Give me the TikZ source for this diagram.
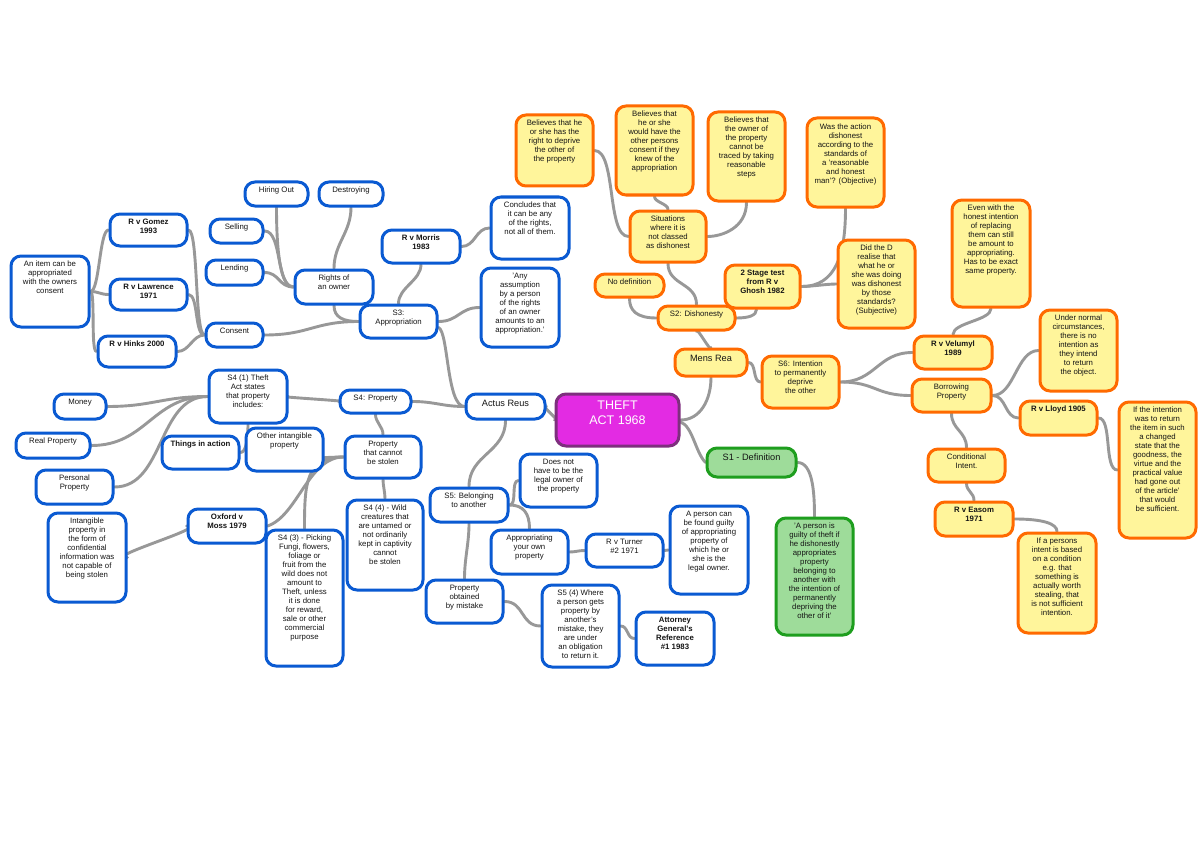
\documentclass[tikz,border=0pt]{standalone}
\usepackage{fontspec}
\setmainfont{Liberation Sans}
\usetikzlibrary{backgrounds}
\definecolor{bl}{HTML}{0A5AD2}
\definecolor{orb}{HTML}{FF6A00}
\definecolor{yel}{HTML}{FFF59B}
\definecolor{grb}{HTML}{1E9E1E}
\definecolor{grf}{HTML}{9EDC9A}
\definecolor{mag}{HTML}{E32BE3}
\definecolor{pur}{HTML}{7E2F7E}
\definecolor{lnk}{RGB}{152,152,152}
\definecolor{txc}{HTML}{151515}
\newcommand\bx[9][6]{%
  \node[#2, anchor=north west, minimum width=#7pt-#5pt-3pt, minimum height=#8pt-#6pt-3pt] (#4) at (#5+1.5,-#6-1.5) {};
  \node[#3, anchor=north] (#4t) at ([yshift=-#1pt]#4.north) {#9};}
\newcommand\ehc[3]{\draw[ed] (#1) .. controls +(#3,0) and +(-#3,0) .. (#2);}
\newcommand\evc[3]{\draw[ed] (#1) .. controls +(0,-#3) and +(0,#3) .. (#2);}
\begin{document}
\begin{tikzpicture}[x=1pt,y=1pt,
  base/.style={line width=3pt, rounded corners=10pt, inner sep=0pt},
  bb/.style={base, draw=bl, fill=white},
  ob/.style={base, draw=orb, fill=yel},
  gb/.style={base, draw=grb, fill=grf},
  tb/.style={base, draw=pur, fill=mag},
  tx/.style={inner sep=0pt, align=center, text=txc, font=\fontsize{7.8}{9}\selectfont},
  txb/.style={tx, font=\fontsize{7.8}{9}\selectfont\bfseries},
  txl/.style={tx, font=\fontsize{9.2}{11}\selectfont},
  txw/.style={inner sep=0pt, align=center, text=white, font=\fontsize{12.5}{15.5}\selectfont},
  ed/.style={draw=lnk, line width=2.9pt, line cap=round}]
\useasboundingbox (0,0) rectangle (1200,-848);

% ---------- centre ----------
\bx[8]{tb}{txw}{theft}{553}{391}{679}{446}{THEFT\\ACT 1968}
\bx[7]{bb}{txl}{actus}{463}{391}{545}{419}{Actus Reus}
\bx[7]{ob}{txl}{mens}{672}{346}{747}{376}{Mens Rea}
\bx[7]{gb}{txl}{s1}{704}{445}{796}{477}{S1 - Definition}
\bx{gb}{tx}{apg}{773}{515}{853}{635}{'A person is\\guilty of theft if\\he dishonestly\\appropriates\\property\\belonging to\\another with\\the intention of\\permanently\\depriving the\\other of it'}

% ---------- S3 appropriation branch ----------
\bx{bb}{tx}{item}{8}{253}{89}{327}{An item can be\\appropriated\\with the owners\\consent}
\bx{bb}{txb}{gomez}{107}{211}{187}{246}{R v Gomez\\1993}
\bx{bb}{txb}{lawr}{107}{276}{187}{310}{R v Lawrence\\1971}
\bx{bb}{txb}{hinks}{95}{333}{176}{367}{R v Hinks 2000}
\bx{bb}{tx}{cons}{203}{320}{263}{347}{Consent}
\bx{bb}{tx}{sell}{207}{216}{263}{243}{Selling}
\bx{bb}{tx}{lend}{203}{257}{263}{285}{Lending}
\bx{bb}{tx}{hire}{242}{179}{308}{206}{Hiring Out}
\bx{bb}{tx}{destr}{316}{179}{383}{206}{Destroying}
\bx{bb}{tx}{rights}{292}{267}{373}{304}{Rights of\\an owner}
\bx{bb}{tx}{s3}{357}{302}{437}{338}{S3:\\Appropriation}
\bx{bb}{txb}{morris}{379}{227}{460}{263}{R v Morris\\1983}
\bx{bb}{tx}{concl}{488}{194}{569}{259}{Concludes that\\it can be any\\of the rights,\\not all of them.}
\bx{bb}{tx}{any}{478}{265}{559}{347}{'Any\\assumption\\by a person\\of the rights\\of an owner\\amounts to an\\appropriation.'}

% ---------- S4 property branch ----------
\bx{bb}{tx}{s4p}{337}{387}{411}{413}{S4: Property}
\bx{bb}{tx}{s41}{206}{367}{287}{423}{S4 (1) Theft\\Act states\\that property\\includes:}
\bx{bb}{tx}{money}{51}{391}{106}{419}{Money}
\bx{bb}{tx}{real}{13}{430}{90}{458}{Real Property}
\bx{bb}{tx}{pers}{33}{467}{113}{504}{Personal\\Property}
\bx{bb}{txb}{things}{159}{433}{239}{469}{Things in action}
\bx{bb}{tx}{other}{243}{425}{323}{471}{Other intangible\\property}
\bx{bb}{txb}{oxford}{185}{506}{266}{543}{Oxford v\\Moss 1979}
\bx{bb}{tx}{intang}{45}{510}{126}{602}{Intangible\\property in\\the form of\\confidential\\information was\\not capable of\\being stolen}
\bx{bb}{tx}{ptc}{342}{433}{421}{478}{Property\\that cannot\\be stolen}
\bx{bb}{tx}{s44}{344}{497}{423}{590}{S4 (4) - Wild\\creatures that\\are untamed or\\not ordinarily\\kept in captivity\\cannot\\be stolen}
\bx{bb}{tx}{s43}{263}{527}{343}{666}{S4 (3) - Picking\\Fungi, flowers,\\foliage or\\fruit from the\\wild does not\\amount to\\Theft, unless\\it is done\\for reward,\\sale or other\\commercial\\purpose}

% ---------- S5 belonging branch ----------
\bx{bb}{tx}{s5}{427}{485}{508}{522}{S5: Belonging\\to another}
\bx{bb}{tx}{dn}{517}{451}{597}{507}{Does not\\have to be the\\legal owner of\\the property}
\bx{bb}{tx}{app}{488}{527}{568}{574}{Appropriating\\your own\\property}
\bx{bb}{tx}{turner}{583}{531}{663}{567}{R v Turner\\\#2 1971}
\bx{bb}{tx}{aper}{667}{503}{748}{594}{A person can\\be found guilty\\of appropriating\\property of\\which he or\\she is the\\legal owner.}
\bx{bb}{tx}{pob}{423}{577}{503}{623}{Property\\obtained\\by mistake}
\bx{bb}{tx}{s54}{539}{582}{619}{667}{S5 (4) Where\\a person gets\\property by\\another's\\mistake, they\\are under\\an obligation\\to return it.}
\bx{bb}{txb}{ag}{633}{609}{714}{665}{Attorney\\General's\\Reference\\\#1 1983}

% ---------- S2 dishonesty branch ----------
\bx{ob}{tx}{bel1}{513}{112}{593}{186}{Believes that he\\or she has the\\right to deprive\\the other of\\the property}
\bx{ob}{tx}{bel2}{613}{103}{693}{195}{Believes that\\he or she\\would have the\\other persons\\consent if they\\knew of the\\appropriation}
\bx{ob}{tx}{bel3}{705}{109}{785}{201}{Believes that\\the owner of\\the property\\cannot be\\traced by taking\\reasonable\\steps}
\bx{ob}{tx}{sit}{627}{208}{706}{262}{Situations\\where it is\\not classed\\as dishonest}
\bx{ob}{tx}{nodef}{592}{271}{664}{297}{No definition}
\bx{ob}{tx}{s2}{655}{303}{735}{330}{S2: Dishonesty}
\bx{ob}{txb}{ghosh}{722}{262}{800}{308}{2 Stage test\\from R v\\Ghosh 1982}
\bx[7]{ob}{tx}{was}{804}{115}{884}{207}{Was the action\\dishonest\\according to the\\standards of\\a 'reasonable\\and honest\\man'? (Objective)}
\bx{ob}{tx}{did}{835}{237}{915}{328}{Did the D\\realise that\\what he or\\she was doing\\was dishonest\\by those\\standards?\\(Subjective)}

% ---------- S6 intention branch ----------
\bx{ob}{tx}{s6}{759}{353}{839}{408}{S6: Intention\\to permanently\\deprive\\the other}
\bx{ob}{txb}{velumyl}{911}{333}{992}{369}{R v Velumyl\\1989}
\bx{ob}{tx}{even}{949}{197}{1030}{307}{Even with the\\honest intention\\of replacing\\them can still\\be amount to\\appropriating.\\Has to be exact\\same property.}
\bx{ob}{tx}{borrow}{909}{376}{991}{412}{Borrowing\\Property}
\bx{ob}{tx}{under}{1037}{307}{1117}{391}{Under normal\\circumstances,\\there is no\\intention as\\they intend\\to return\\the object.}
\bx{ob}{txb}{lloyd}{1017}{398}{1097}{435}{R v Lloyd 1905}
\bx{ob}{tx}{ifint}{1116}{399}{1196}{538}{If the intention\\was to return\\the item in such\\a changed\\state that the\\goodness, the\\virtue and the\\practical value\\had gone out\\of the article'\\that would\\be sufficient.}
\bx{ob}{tx}{cond}{925}{446}{1005}{482}{Conditional\\Intent.}
\bx{ob}{txb}{easom}{932}{499}{1013}{536}{R v Easom\\1971}
\bx{ob}{tx}{ifp}{1015}{530}{1096}{633}{If a persons\\intent is based\\on a condition\\e.g. that\\something is\\actually worth\\stealing, that\\is not sufficient\\intention.}

\begin{scope}[on background layer]
\fill[white] (0,0) rectangle (1200,-848);
% centre
\ehc{theft.west}{actus.east}{6}
\draw[ed] (theft.east) .. controls +(20,0) and +(0,-22) .. (mens.south);
\draw[ed] ([yshift=-2pt]theft.east) .. controls +(12,-4) and +(-10,10) .. (s1.west);
\draw[ed] (s1.east) .. controls +(15,0) and +(0,25) .. (apg.north);
\ehc{mens.east}{s6.west}{8}
\evc{mens.north}{s2.south}{6}
% S2
\draw[ed] (s2.west) .. controls +(-20,0) and +(0,-12) .. (nodef.south);
\evc{sit.south}{s2.north}{22}
\draw[ed] (s2.east) .. controls +(12,0) and +(0,-6) .. ([xshift=-6pt]ghosh.south);
\draw[ed] (bel1.east) .. controls +(22,0) and +(-22,0) .. (sit.west);
\evc{bel2.south}{sit.north}{6}
\draw[ed] (bel3.south) .. controls +(0,-25) and +(15,0) .. (sit.east);
\draw[ed] (ghosh.east) .. controls +(35,0) and +(0,-45) .. (was.south);
\ehc{ghosh.east}{did.west}{10}
% S6
\ehc{s6.east}{velumyl.west}{35}
\ehc{s6.east}{borrow.west}{35}
\evc{even.south}{velumyl.north}{12}
\ehc{borrow.east}{under.west}{22}
\ehc{borrow.east}{lloyd.west}{14}
\evc{borrow.south}{cond.north}{16}
\ehc{lloyd.east}{ifint.west}{14}
\evc{cond.south}{easom.north}{8}
\draw[ed] (easom.east) .. controls +(28,0) and +(0,8) .. (ifp.north);
% S3
\draw[ed] ([yshift=-6pt]s3.east) .. controls +(10,-4) and +(-18,0) .. (actus.west);
\ehc{s3.east}{any.west}{20}
\evc{morris.south}{s3.north}{16}
\ehc{morris.east}{concl.west}{14}
\draw[ed] (rights.south) .. controls +(0,-12) and +(-15,0) .. (s3.west);
\ehc{cons.east}{s3.west}{45}
\draw[ed] (hire.south) .. controls +(0,-50) and +(-12,0) .. (rights.west);
\ehc{sell.east}{rights.west}{18}
\ehc{lend.east}{rights.west}{15}
\evc{destr.south}{rights.north}{25}
\ehc{gomez.east}{cons.west}{10}
\ehc{lawr.east}{cons.west}{10}
\ehc{hinks.east}{cons.west}{12}
\ehc{item.east}{gomez.west}{9}
\ehc{item.east}{lawr.west}{8}
\draw[ed] (item.east) .. controls +(5,0) and +(-6,0) .. (hinks.west);
% S4
\ehc{s4p.west}{s41.east}{20}
\ehc{s4p.east}{actus.west}{22}
\evc{s4p.south}{ptc.north}{8}
\ehc{money.east}{s41.west}{45}
\ehc{real.east}{s41.west}{55}
\ehc{pers.east}{s41.west}{50}
\draw[ed] (things.east) .. controls +(6,0) and +(0,-12) .. (s41.south);
\draw[ed] ([yshift=-8pt]other.east) .. controls +(8,0) and +(-10,0) .. (ptc.west);
\draw[ed] (ptc.west) .. controls +(-35,0) and +(30,10) .. (oxford.east);
\draw[ed] (ptc.west) .. controls +(-38,0) and +(0,45) .. (s43.north);
\ehc{oxford.west}{intang.east}{25}
\evc{ptc.south}{s44.north}{6}
% S5
\evc{actus.south}{s5.north}{32}
\draw[ed] (s5.east) .. controls +(8,0) and +(-8,0) .. (dn.west);
\draw[ed] (s5.east) .. controls +(14,0) and +(0,15) .. (app.north);
\evc{s5.south}{pob.north}{20}
\ehc{app.east}{turner.west}{6}
\ehc{turner.east}{aper.west}{3}
\ehc{pob.east}{s54.west}{20}
\ehc{s54.east}{ag.west}{8}
\end{scope}
\end{tikzpicture}
\end{document}
